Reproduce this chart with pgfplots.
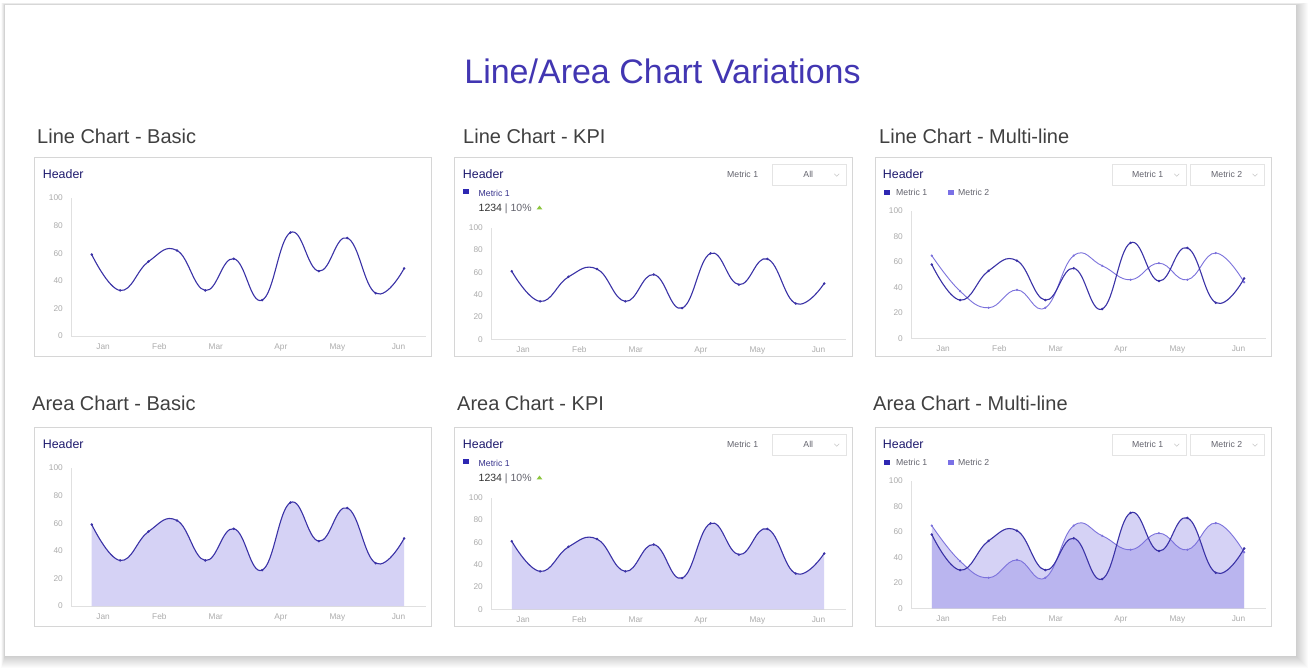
\documentclass[border=0pt]{standalone}
\usepackage{fontspec}
\setmainfont{Liberation Sans}
\usepackage{pgfplots}
\usepackage{pgfplotstable}
\pgfplotsset{compat=1.18}

\definecolor{titleblue}{RGB}{66,54,178}
\definecolor{sectext}{RGB}{64,64,64}
\definecolor{hdrnavy}{RGB}{30,26,110}
\definecolor{boxgrey}{RGB}{214,214,214}
\definecolor{ddgrey}{RGB}{228,228,228}
\definecolor{chev}{RGB}{200,200,200}
\definecolor{axisgrey}{RGB}{224,224,224}
\definecolor{ticklab}{RGB}{172,172,172}
\definecolor{midtext}{RGB}{100,100,110}
\definecolor{darktext}{RGB}{50,50,50}
\definecolor{legkpi}{RGB}{55,50,140}
\definecolor{m1line}{RGB}{58,50,166}
\definecolor{m2line}{RGB}{124,114,220}
\definecolor{m1sq}{RGB}{46,40,178}
\definecolor{m2sq}{RGB}{122,112,230}
\definecolor{fillc}{RGB}{139,132,230}
\definecolor{kpigreen}{RGB}{141,198,63}

% point index 0..11 along x
\pgfplotstableread{
x m1
0 59
1 33
2 54
3 62
4 33
5 56
6 26
7 75
8 47
9 71
10 31
11 49
}\basicdata
\pgfplotstableread{
x m1
0 61
1 34
2 56
3 63
4 34
5 58
6 28
7 77
8 49
9 72
10 32
11 50
}\kpidata
\pgfplotstableread{
x m1 m2
0 58 65
1 30 37
2 53 24
3 61 38
4 30 24
5 55 65
6 23 57
7 75 46
8 45 59
9 71 46
10 28 67
11 47 44
}\multidata

\pgfplotsset{
  panel/.style={
    scale only axis, width=354.7pt, anchor=south west,
    xmin=-0.72, xmax=11.77, ymin=0, ymax=100,
    axis x line*=bottom, axis y line*=left,
    axis line style={-, draw=axisgrey, line width=0.8pt},
    xtick={0.4,2.38,4.37,6.66,8.65,10.8},
    xticklabels={Jan,Feb,Mar,Apr,May,Jun},
    ytick={0,20,40,60,80,100},
    major tick length=0pt,
    tick label style={font=\fontsize{8.3}{9}\selectfont, text=ticklab},
    /pgf/number format/assume math mode=true,
    yticklabel style={xshift=-5pt},
    xticklabel style={yshift=-4pt},
  },
  m1plot/.style={m1line, line width=1.1pt, smooth, tension=0.75, mark=*, mark size=0.6pt,
    mark options={fill=m1line, draw=m1line}},
  m2plot/.style={m2line, line width=0.9pt, smooth, tension=0.75, mark=*, mark size=0.6pt,
    mark options={fill=m2line, draw=m2line}},
  areafill/.style={fill=fillc, fill opacity=0.36, draw=none, smooth, tension=0.75},
}

\tikzset{
  hdr/.style={anchor=base west, inner sep=0, text=hdrnavy, font=\fontsize{12.4}{14}\selectfont},
  sec/.style={anchor=base west, inner sep=0, text=sectext, font=\fontsize{20}{24}\selectfont},
  small/.style={inner sep=0, font=\fontsize{8.7}{10}\selectfont},
}

\newcommand{\kpihead}{%
  \fill[m1sq] (463.3,189) rectangle (468.6,194.2);
  \node[small, anchor=base west, text=legkpi] at (478.5,196) {Metric 1};
  \node[anchor=base west, inner sep=0, font=\fontsize{10.5}{12}\selectfont] at (478.5,211.5)
    {\textcolor{darktext}{1234} \textcolor{midtext}{| 10\%}};
  \fill[kpigreen] (536.7,209.3) -- (542.3,209.3) -- (539.5,205.5) -- cycle;
  \node[small, anchor=base east, text=midtext] at (758.3,177.8) {Metric 1};
  \draw[ddgrey, fill=white, line width=0.7] (772.3,164.3) rectangle (846,185);
  \node[small, anchor=base, text=midtext] at (808.3,177.8) {All};
  \draw[chev, line width=0.5] (834.2,173.8) -- (836.7,176.3) -- (839.2,173.8);
}
\newcommand{\multihead}{%
  \draw[ddgrey, fill=white, line width=0.7] (1112.3,164.3) rectangle (1186,185);
  \draw[ddgrey, fill=white, line width=0.7] (1190.7,164.3) rectangle (1264.7,185);
  \node[small, anchor=base, text=midtext] at (1147.7,177.8) {Metric 1};
  \draw[chev, line width=0.5] (1174.2,173.8) -- (1176.7,176.3) -- (1179.2,173.8);
  \node[small, anchor=base, text=midtext] at (1226.7,177.8) {Metric 2};
  \draw[chev, line width=0.5] (1252.5,173.8) -- (1255,176.3) -- (1257.5,173.8);
  \fill[m1sq] (884,189.5) rectangle (889.5,194.8);
  \node[small, anchor=base west, text=midtext] at (896,195.5) {Metric 1};
  \fill[m2sq] (948,189.5) rectangle (953.5,194.8);
  \node[small, anchor=base west, text=midtext] at (958,195.5) {Metric 2};
}

\begin{document}
\begin{tikzpicture}
\begin{scope}[x=1pt, y=-1pt]
  \useasboundingbox (0,0) rectangle (1310,670);
  \fill[white] (0,0) rectangle (1310,670);
  % card shadow
  \foreach \d in {1,...,12} {
    \fill[black, opacity=0.014] (5-0.3*\d,5-0.2*\d) rectangle (1296+\d,656+\d);
  }
  \fill[white] (5,5) rectangle (1296,656);

  \node[anchor=base, inner sep=0, text=titleblue, font=\fontsize{34}{40}\selectfont]
    at (662.5,83) {Line/Area Chart Variations};

  \node[sec] at (37,143) {Line Chart - Basic};
  \node[sec] at (463,143) {Line Chart - KPI};
  \node[sec] at (879,143) {Line Chart - Multi-line};
  \node[sec] at (32,410) {Area Chart - Basic};
  \node[sec] at (457,410) {Area Chart - KPI};
  \node[sec] at (873,410) {Area Chart - Multi-line};

  \foreach \dy in {0,270} {
    \draw[boxgrey, line width=0.9] (34.5,157.5+\dy) rectangle (431,356.5+\dy);
    \draw[boxgrey, line width=0.9] (454.5,157.5+\dy) rectangle (852,356.5+\dy);
    \draw[boxgrey, line width=0.9] (875,157.5+\dy) rectangle (1271.5,356.5+\dy);
    \node[hdr] at (42.7,178+\dy) {Header};
    \node[hdr] at (462.7,178+\dy) {Header};
    \node[hdr] at (882.7,178+\dy) {Header};
  }
  \kpihead
  \multihead
  \begin{scope}[yshift=-270pt]
    \kpihead
    \multihead
  \end{scope}
\end{scope}

% Line Chart - Basic
\begin{axis}[panel, at={(71.3pt,-336pt)}, height=138pt]
  \addplot[m1plot] table[x=x, y=m1] {\basicdata};
\end{axis}
% Line Chart - KPI
\begin{axis}[panel, at={(491.3pt,-339.3pt)}, height=111.6pt]
  \addplot[m1plot] table[x=x, y=m1] {\kpidata};
\end{axis}
% Line Chart - Multi-line
\begin{axis}[panel, at={(911.3pt,-338.3pt)}, height=127.3pt]
  \addplot[m2plot] table[x=x, y=m2] {\multidata};
  \addplot[m1plot] table[x=x, y=m1] {\multidata};
\end{axis}
% Area Chart - Basic
\begin{axis}[panel, at={(71.3pt,-606pt)}, height=138pt]
  \addplot[areafill] table[x=x, y=m1] {\basicdata} \closedcycle;
  \addplot[m1plot] table[x=x, y=m1] {\basicdata};
\end{axis}
% Area Chart - KPI
\begin{axis}[panel, at={(491.3pt,-609.3pt)}, height=111.6pt]
  \addplot[areafill] table[x=x, y=m1] {\kpidata} \closedcycle;
  \addplot[m1plot] table[x=x, y=m1] {\kpidata};
\end{axis}
% Area Chart - Multi-line
\begin{axis}[panel, at={(911.3pt,-608.3pt)}, height=127.3pt]
  \addplot[areafill] table[x=x, y=m1] {\multidata} \closedcycle;
  \addplot[areafill] table[x=x, y=m2] {\multidata} \closedcycle;
  \addplot[m2plot] table[x=x, y=m2] {\multidata};
  \addplot[m1plot] table[x=x, y=m1] {\multidata};
\end{axis}
\end{tikzpicture}
\end{document}
